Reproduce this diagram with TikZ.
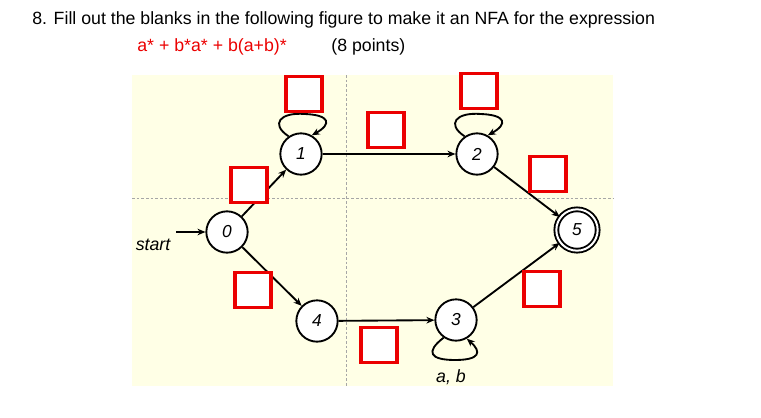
\documentclass[tikz,border=0pt]{standalone}
\usepackage{fontspec}
\setmainfont{Liberation Sans}
\usetikzlibrary{arrows.meta}
\tikzset{every picture/.style={line width=1.4pt}}
\tikzset{
  state/.style={draw, circle, fill=white, minimum size=31pt, inner sep=0pt, font=\fontsize{13}{15}\selectfont\itshape},
  blank/.style={draw={rgb,255:red,235;green,0;blue,0}, line width=2.4pt, fill=white, minimum width=27pt, minimum height=26pt, inner sep=0pt},
  edge/.style={-{Stealth[length=6pt,width=5pt]}}
}
\begin{document}
\begin{tikzpicture}[x=0.75pt,y=0.75pt,yscale=-1,xscale=1]
	\useasboundingbox (0,0) rectangle (761,418);
	%background
	\fill [fill={rgb,255:red,255;green,255;blue,230}] (132,75) rectangle (613,386);
	\draw [gray!70, line width=0.4pt, dash pattern={on 2pt off 1.5pt}] (132,198) -- (613,198) (346,75) -- (346,386);
	%title
	\node [anchor=west, font=\fontsize{13.3}{15}\selectfont] (title) at (27,20) {8. Fill out the blanks in the following figure to make it an NFA for the expression};
	\node [anchor=west, font=\fontsize{13.3}{15}\selectfont, text={rgb,255:red,235;green,0;blue,0}] (expr) at (132,47) {a* + b*a* + b(a+b)*};
	\node [anchor=west, font=\fontsize{13.3}{15}\selectfont] (pts) at (326,47) {(8 points)};
	%states
	\node [state] (s0) at (227,232) {0};
	\node [state] (s1) at (301,154) {1};
	\node [state] (s2) at (477,154) {2};
	\node [state, double, double distance=1.5pt] (s5) at (577,230) {5};
	\node [state] (s4) at (317,321) {4};
	\node [state] (s3) at (456,320) {3};
	\coordinate (st) at (176,232);
	\node [font=\fontsize{13.3}{15}\selectfont\itshape] (start) at (153,245) {start};
	%transitions
	\draw [edge] (st) -- (s0);
	\draw [edge] (s0) -- (s1);
	\draw [edge] (s0) -- (s4);
	\draw [edge] (s1) -- (s2);
	\draw [edge] (s4) -- (s3);
	\draw [edge] (s2) -- (s5);
	\draw [edge] (s3) -- (s5);
	\draw [edge] (s1.125) .. controls (270,124) and (280,112) .. (305,114) .. controls (330,115) and (332,124) .. (s1.60);
	\draw [edge] (s2.125) .. controls (446,124) and (456,112) .. (481,114) .. controls (506,115) and (508,124) .. (s2.60);
	\draw [edge] (s3.235) .. controls (425,352) and (430,360) .. (455,360) .. controls (480,360) and (482,352) .. (s3.300);
	\node [font=\fontsize{13.3}{15}\selectfont\itshape] (ab) at (451,377) {a, b};
	%blanks
	\node [blank] (b1) at (304,94) {};
	\node [blank] (b2) at (479,91) {};
	\node [blank] (b12) at (386,130) {};
	\node [blank] (b01) at (249,185) {};
	\node [blank] (b25) at (548,174) {};
	\node [blank] (b04) at (253,290) {};
	\node [blank] (b35) at (542,289) {};
	\node [blank] (b43) at (379,345) {};
\end{tikzpicture}
\end{document}
